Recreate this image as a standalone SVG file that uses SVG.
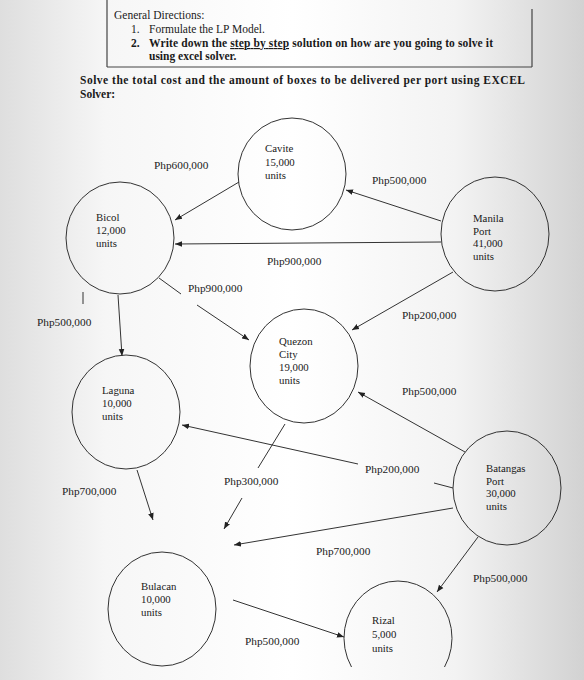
<svg xmlns="http://www.w3.org/2000/svg" width="584" height="680" viewBox="0 0 584 680">
<defs>
<linearGradient id="bg" x1="0" y1="0" x2="1" y2="0">
<stop offset="0" stop-color="#dedede"/>
<stop offset="0.18" stop-color="#f6f6f6"/>
<stop offset="0.5" stop-color="#ffffff"/>
<stop offset="0.78" stop-color="#f3f3f3"/>
<stop offset="1" stop-color="#d2d2d2"/>
</linearGradient>
<marker id="ah" viewBox="0 0 10 10" refX="10" refY="5" markerWidth="7" markerHeight="7" orient="auto" markerUnits="userSpaceOnUse">
<path d="M0,1 L10,5 L0,9 z" fill="#222"/>
</marker>
</defs>
<style>
text{font-family:"Liberation Serif","Times New Roman",serif;fill:#1a1a1a}
.hd{font-size:11.5px}
.b{font-weight:bold}
.lbl{font-size:11.3px}
.nt{font-size:10.8px}
.node ellipse,.node path{fill:none;stroke:#333;stroke-width:1}
.edge line{stroke:#333;stroke-width:1}
.arr{marker-end:url(#ah)}
</style>
<rect width="584" height="680" fill="url(#bg)"/>
<g id="header">
<line x1="107" y1="0" x2="107" y2="67" stroke="#444" stroke-width="1.2"/>
<line x1="532" y1="9" x2="532" y2="67" stroke="#444" stroke-width="1.2"/>
<line x1="107" y1="67" x2="532" y2="67" stroke="#444" stroke-width="1.2"/>
<text class="hd" x="114" y="19">General Directions:</text>
<text class="hd" x="131" y="33">1.</text>
<text class="hd" x="149" y="33">Formulate the LP Model.</text>
<text class="hd b" x="131" y="47">2.</text>
<text class="hd b" x="149" y="47" textLength="344" lengthAdjust="spacing">Write down the <tspan text-decoration="underline">step by step</tspan> solution on how are you going to solve it</text>
<text class="hd b" x="149" y="60">using excel solver.</text>
<text class="hd b" x="80" y="84" textLength="445" lengthAdjust="spacing">Solve the total cost and the amount of boxes to be delivered per port using EXCEL</text>
<text class="hd b" x="80" y="98">Solver:</text>
</g>
<g id="connectors" class="edge">
<line class="arr" x1="239" y1="182" x2="175" y2="220"/>
<line class="arr" x1="441" y1="242" x2="175" y2="244"/>
<line class="arr" x1="441" y1="221" x2="346" y2="190"/>
<line class="arr" x1="453" y1="272" x2="352" y2="330"/>
<line x1="159" y1="278" x2="181" y2="294"/>
<line class="arr" x1="197" y1="305" x2="249" y2="340"/>
<line class="arr" x1="118" y1="295" x2="122" y2="356"/>
<line x1="83" y1="292" x2="83" y2="304"/>
<line class="arr" x1="358" y1="464" x2="182" y2="425"/>
<line x1="434" y1="483" x2="453" y2="488"/>
<line class="arr" x1="465" y1="452" x2="358" y2="392"/>
<line x1="285" y1="424" x2="258" y2="468"/>
<line class="arr" x1="242" y1="498" x2="224" y2="529"/>
<line class="arr" x1="137" y1="470" x2="153" y2="520"/>
<line class="arr" x1="453" y1="508" x2="234" y2="545"/>
<line class="arr" x1="478" y1="537" x2="437" y2="592"/>
<line class="arr" x1="233" y1="600" x2="344" y2="637"/>
</g>
<g id="labels">
<text class="lbl" x="154" y="169">Php600,000</text>
<text class="lbl" x="372" y="184">Php500,000</text>
<text class="lbl" x="267" y="265">Php900,000</text>
<text class="lbl" x="188" y="292">Php900,000</text>
<text class="lbl" x="37" y="326">Php500,000</text>
<text class="lbl" x="402" y="319">Php200,000</text>
<text class="lbl" x="402" y="395">Php500,000</text>
<text class="lbl" x="365" y="473">Php200,000</text>
<text class="lbl" x="224" y="485">Php300,000</text>
<text class="lbl" x="62" y="495">Php700,000</text>
<text class="lbl" x="316" y="555">Php700,000</text>
<text class="lbl" x="473" y="582">Php500,000</text>
<text class="lbl" x="245" y="645">Php500,000</text>
</g>
<g id="cavite" class="node">
<ellipse cx="292" cy="174" rx="54" ry="56"/>
<text class="nt" x="265" y="152">Cavite</text>
<text class="nt" x="265" y="166">15,000</text>
<text class="nt" x="265" y="179">units</text>
</g>
<g id="bicol" class="node">
<ellipse cx="120" cy="238" rx="54" ry="56"/>
<text class="nt" x="96" y="221">Bicol</text>
<text class="nt" x="96" y="234">12,000</text>
<text class="nt" x="96" y="247">units</text>
</g>
<g id="manila" class="node">
<ellipse cx="495" cy="234" rx="54" ry="57"/>
<text class="nt" x="473" y="222">Manila</text>
<text class="nt" x="473" y="235">Port</text>
<text class="nt" x="473" y="247">41,000</text>
<text class="nt" x="473" y="260">units</text>
</g>
<g id="quezon" class="node">
<ellipse cx="304" cy="366" rx="54" ry="57"/>
<text class="nt" x="279" y="345">Quezon</text>
<text class="nt" x="279" y="358">City</text>
<text class="nt" x="279" y="371">19,000</text>
<text class="nt" x="279" y="384">units</text>
</g>
<g id="laguna" class="node">
<ellipse cx="126" cy="412" rx="54" ry="57"/>
<text class="nt" x="102" y="394">Laguna</text>
<text class="nt" x="102" y="407">10,000</text>
<text class="nt" x="102" y="420">units</text>
</g>
<g id="batangas" class="node">
<ellipse cx="507" cy="488" rx="54" ry="57"/>
<text class="nt" x="486" y="472">Batangas</text>
<text class="nt" x="486" y="485">Port</text>
<text class="nt" x="486" y="497">30,000</text>
<text class="nt" x="486" y="510">units</text>
</g>
<g id="bulacan" class="node">
<ellipse cx="162" cy="609" rx="54" ry="57"/>
<text class="nt" x="141" y="590">Bulacan</text>
<text class="nt" x="141" y="603">10,000</text>
<text class="nt" x="141" y="616">units</text>
</g>
<g id="rizal" class="node">
<path d="M351.5,667 A54,57 0 1 1 444.5,667"/>
<text class="nt" x="372" y="624">Rizal</text>
<text class="nt" x="372" y="638">5,000</text>
<text class="nt" x="372" y="652">units</text>
</g>
</svg>
